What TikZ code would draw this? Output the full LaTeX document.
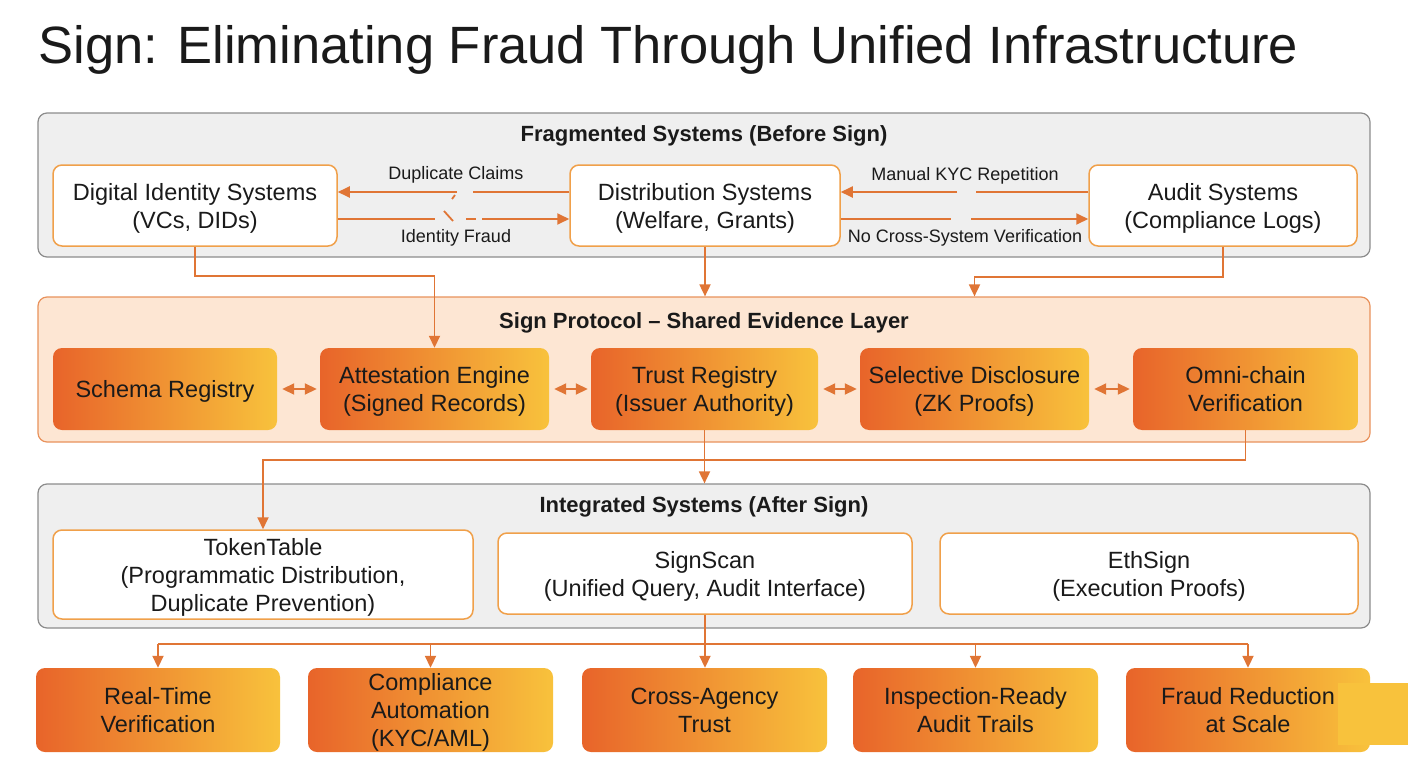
\documentclass[tikz,border=0pt]{standalone}
\usepackage{fontspec}
\setmainfont{Liberation Sans}
\usetikzlibrary{arrows.meta}

\definecolor{ora}{HTML}{E8642A}
\definecolor{yel}{HTML}{F8C23C}
\definecolor{lnk}{HTML}{E07535}
\definecolor{grayfill}{HTML}{EFEFEF}
\definecolor{graybd}{HTML}{8C8C8C}
\definecolor{peach}{HTML}{FDE6D3}
\definecolor{peachbd}{HTML}{E9925C}
\definecolor{wbd}{HTML}{F0A04A}
\definecolor{ink}{HTML}{1A1A1A}

\tikzset{
  panel/.style={rounded corners=9pt, line width=1.2pt},
  ptitle/.style={font=\fontsize{22}{26}\selectfont\bfseries, text=ink},
  wbox/.style={draw=wbd, fill=white, rounded corners=9pt, line width=1.5pt,
    align=center, text=ink, text depth=0pt, font=\fontsize{23.5}{28}\selectfont},
  obox/.style={left color=ora, right color=yel, rounded corners=9pt,
    align=center, text=ink, text depth=0pt, font=\fontsize{23.5}{28}\selectfont},
  conn/.style={draw=lnk, line width=1.8pt},
  lbl/.style={font=\fontsize{18}{20}\selectfont, text=ink},
}

\begin{document}
\begin{tikzpicture}[x=1pt, y=-1pt, >={Triangle[length=12pt,width=11pt]}]
  \useasboundingbox[fill=white] (0,0) rectangle (1408,768);

  \node[anchor=west, text=ink, font=\fontsize{52.5}{56}\selectfont] (title) at (35,50)
    {Sign: Eliminating Fraud Through Unified Infrastructure};

  % before sign
  \node[panel, fill=grayfill, draw=graybd, minimum width=1332, minimum height=144] (frag) at (704,185) {};
  \node[ptitle] (fragt) at (704,136) {Fragmented Systems (Before Sign)};
  \node[wbox, minimum width=284, minimum height=81] (dis) at (195,205.5) {Digital Identity Systems\\(VCs, DIDs)};
  \node[wbox, minimum width=270, minimum height=81] (distr) at (705,205.5) {Distribution Systems\\(Welfare, Grants)};
  \node[wbox, minimum width=268, minimum height=81] (audit) at (1223,205.5) {Audit Systems\\(Compliance Logs)};

  \coordinate (g1) at (473,192);
  \coordinate (g2) at (457,192);
  \coordinate (g3) at (435,219);
  \coordinate (g4) at (482,219);
  \coordinate (g5) at (976,192);
  \coordinate (g6) at (957,192);
  \coordinate (g7) at (951,219);
  \coordinate (g8) at (971,219);
  \draw[conn] ([yshift=13.5pt]distr.west) -- (g1);
  \draw[conn,->] (g2) -- ([yshift=13.5pt]dis.east);
  \draw[conn] (452,199) -- (455,195);
  \draw[conn] ([yshift=-13.5pt]dis.east) -- (g3);
  \draw[conn] (444,211) -- (453,221);
  \draw[conn] (466,219) -- (476,219);
  \draw[conn,->] (g4) -- ([yshift=-13.5pt]distr.west);
  \draw[conn] ([yshift=13.5pt]audit.west) -- (g5);
  \draw[conn,->] (g6) -- ([yshift=13.5pt]distr.east);
  \draw[conn] ([yshift=-13.5pt]distr.east) -- (g7);
  \draw[conn,->] (g8) -- ([yshift=-13.5pt]audit.west);
  \node[lbl] (dup) at (456,175) {Duplicate Claims};
  \node[lbl] (idf) at (456,238) {Identity Fraud};
  \node[lbl] (kyc) at (965,176) {Manual KYC Repetition};
  \node[lbl] (ncv) at (965,238) {No Cross-System Verification};

  % sign protocol
  \node[panel, fill=peach, draw=peachbd, minimum width=1332, minimum height=145] (sign) at (704,369.5) {};
  \node[ptitle] (signt) at (704,323) {Sign Protocol – Shared Evidence Layer};
  \node[obox, minimum width=224, minimum height=82] (schema) at (165,389) {Schema Registry};
  \node[obox, minimum width=229, minimum height=82] (att) at (434.5,389) {Attestation Engine\\(Signed Records)};
  \node[obox, minimum width=227, minimum height=82] (trust) at (704.5,389) {Trust Registry\\(Issuer Authority)};
  \node[obox, minimum width=229, minimum height=82] (sel) at (974.5,389) {Selective Disclosure\\(ZK Proofs)};
  \node[obox, minimum width=225, minimum height=82] (omni) at (1245.5,389) {Omni-chain\\Verification};
  \draw[conn,<->, shorten <=5pt, shorten >=3pt] (schema) -- (att);
  \draw[conn,<->, shorten <=5pt, shorten >=3pt] (att) -- (trust);
  \draw[conn,<->, shorten <=5pt, shorten >=3pt] (trust) -- (sel);
  \draw[conn,<->, shorten <=5pt, shorten >=3pt] (sel) -- (omni);

  \draw[conn,->] (dis.south) -- ++(0,29) -| (att.north);
  \draw[conn,->] (distr.south) -- (distr.south |- sign.north);
  \draw[conn,->] (audit.south) -- ++(0,30) -| (sel.north |- sign.north);

  % after sign
  \node[panel, fill=grayfill, draw=graybd, minimum width=1332, minimum height=144] (integ) at (704,556) {};
  \node[ptitle] (integt) at (704,507) {Integrated Systems (After Sign)};
  \node[wbox, minimum width=420, minimum height=89] (tok) at (263,574.5) {TokenTable\\(Programmatic Distribution,\\Duplicate Prevention)};
  \node[wbox, minimum width=414, minimum height=81] (scan) at (705,573.5) {SignScan\\(Unified Query, Audit Interface)};
  \node[wbox, minimum width=418, minimum height=81] (eth) at (1149,573.5) {EthSign\\(Execution Proofs)};

  \draw[conn,->] (trust.south) -- (trust.south |- integ.north);
  \draw[conn,->] (omni.south) -- ++(0,30) -| (tok.north);

  % outcomes
  \node[obox, minimum width=244, minimum height=84] (real) at (158,710) {Real-Time\\Verification};
  \node[obox, minimum width=245, minimum height=84] (comp) at (430.5,710) {Compliance\\Automation\\(KYC/AML)};
  \node[obox, minimum width=245, minimum height=84] (cross) at (704.5,710) {Cross-Agency\\Trust};
  \node[obox, minimum width=245, minimum height=84] (insp) at (975.5,710) {Inspection-Ready\\Audit Trails};
  \node[obox, minimum width=244, minimum height=84] (fraud) at (1248,710) {Fraud Reduction\\at Scale};

  \draw[conn,->] (scan.south) -- (scan.south |- cross.north);
  \coordinate (hub) at ([yshift=-29pt]scan.south);
  \draw[conn] (real.north |- hub) -- (fraud.north |- hub);
  \foreach \b in {real,comp,insp,fraud}
    \draw[conn,->] (\b.north |- hub) -- (\b.north);

  \fill[yel] (1338,683) rectangle (1408,745);
\end{tikzpicture}
\end{document}
